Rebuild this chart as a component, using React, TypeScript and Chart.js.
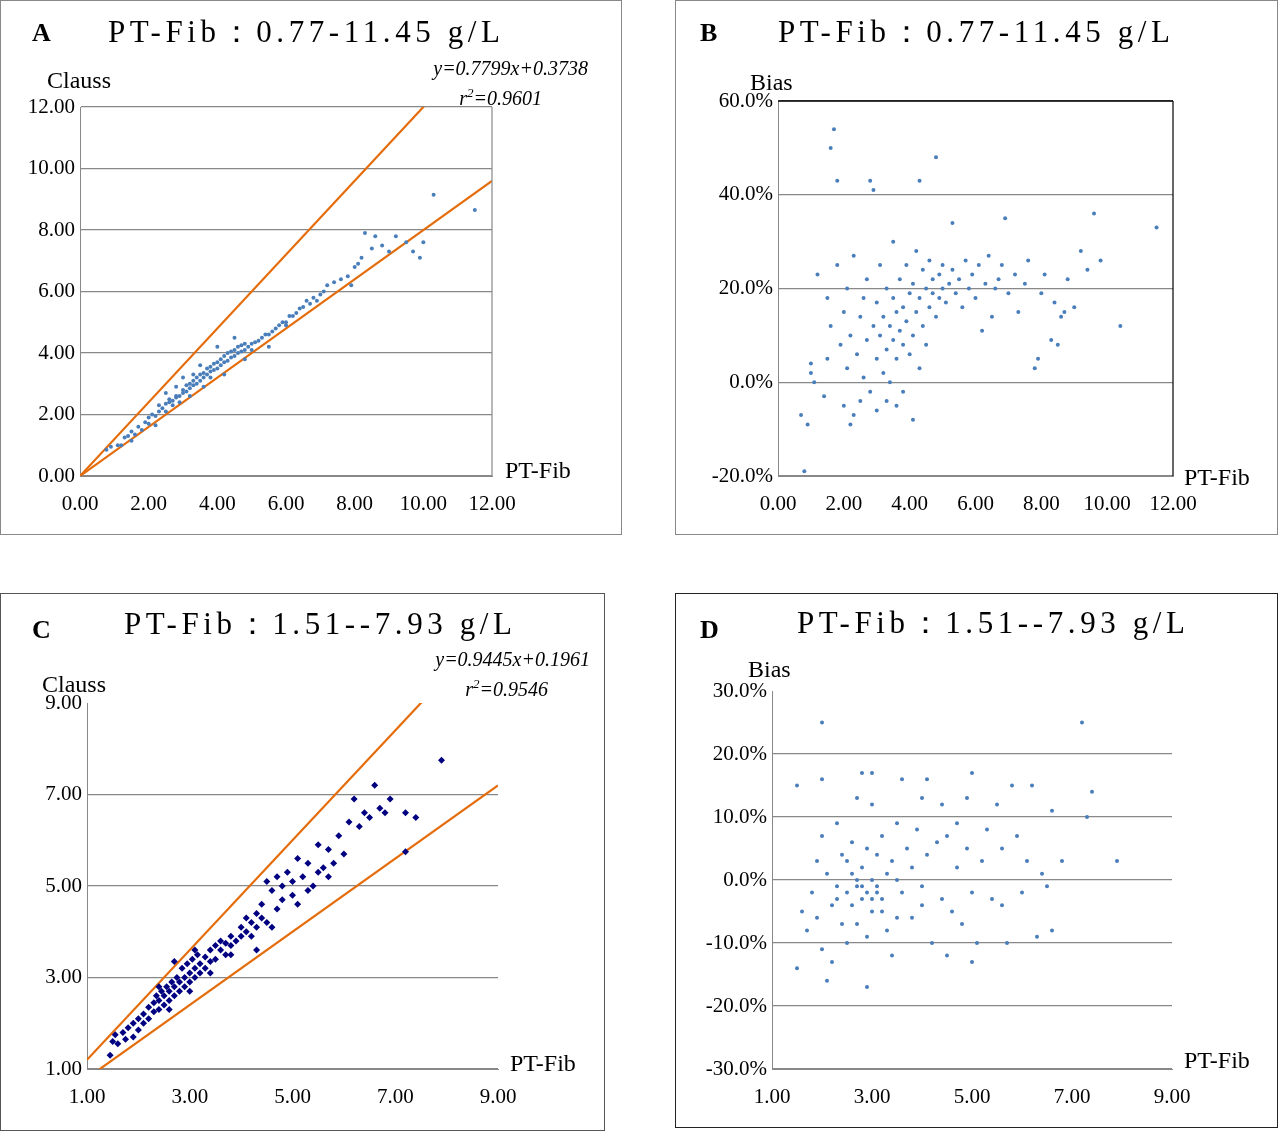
import React, { useEffect, useRef } from "react";
import { Chart, registerables } from "chart.js";
Chart.register(...registerables);

const pointsA: number[][] = [[0.77,0.85],[0.9,0.95],[1.1,1.0],[1.2,1.0],[1.3,1.25],[1.4,1.3],[1.5,1.45],[1.5,1.15],[1.6,1.35],[1.7,1.6],[1.8,1.5],[1.9,1.75],[2.0,1.9],[2.0,1.7],[2.1,2.0],[2.2,1.95],[2.2,1.65],[2.3,2.1],[2.3,2.3],[2.4,2.2],[2.5,2.35],[2.5,2.1],[2.5,2.7],[2.6,2.4],[2.6,2.5],[2.7,2.45],[2.7,2.3],[2.8,2.55],[2.8,2.6],[2.8,2.9],[2.9,2.6],[2.9,2.4],[3.0,2.7],[3.0,2.8],[3.0,3.2],[3.1,2.75],[3.1,2.95],[3.2,2.85],[3.2,3.0],[3.2,2.6],[3.3,2.95],[3.3,3.1],[3.3,3.3],[3.4,3.0],[3.4,3.2],[3.5,3.1],[3.5,3.3],[3.5,3.6],[3.6,3.2],[3.6,3.35],[3.6,2.9],[3.7,3.3],[3.7,3.5],[3.8,3.4],[3.8,3.55],[3.8,3.2],[3.9,3.45],[3.9,3.65],[4.0,3.5],[4.0,3.7],[4.0,4.2],[4.1,3.6],[4.1,3.8],[4.2,3.7],[4.2,3.9],[4.2,3.3],[4.3,3.75],[4.3,4.0],[4.4,3.85],[4.4,4.05],[4.5,3.9],[4.5,4.1],[4.5,4.5],[4.6,4.0],[4.6,4.2],[4.7,4.05],[4.7,4.25],[4.8,4.1],[4.8,4.3],[4.8,3.8],[4.9,4.2],[5.0,4.3],[5.0,4.1],[5.1,4.35],[5.2,4.4],[5.3,4.5],[5.4,4.6],[5.5,4.6],[5.5,4.2],[5.6,4.7],[5.7,4.8],[5.8,4.9],[5.9,5.0],[6.0,5.0],[6.0,4.9],[6.1,5.2],[6.2,5.2],[6.3,5.3],[6.4,5.45],[6.5,5.5],[6.6,5.7],[6.7,5.6],[6.8,5.8],[6.9,5.7],[7.0,5.9],[7.1,6.0],[7.2,6.2],[7.4,6.3],[7.6,6.4],[7.8,6.5],[7.9,6.2],[8.0,6.8],[8.1,6.9],[8.2,7.1],[8.3,7.9],[8.5,7.4],[8.6,7.8],[8.8,7.5],[9.0,7.3],[9.2,7.8],[9.5,7.6],[9.7,7.3],[9.9,7.1],[10.0,7.6],[10.3,9.15],[11.5,8.65]];

const pointsB: number[][] = [[0.7,-7],[0.8,-19],[0.9,-9],[1.0,2],[1.0,4],[1.1,0],[1.2,23],[1.4,-3],[1.5,5],[1.5,18],[1.6,12],[1.6,50],[1.7,54],[1.8,43],[1.8,25],[1.9,8],[2.0,-5],[2.0,15],[2.1,20],[2.1,3],[2.2,-9],[2.2,10],[2.3,27],[2.3,-7],[2.4,6],[2.5,14],[2.5,-4],[2.6,18],[2.6,1],[2.7,22],[2.7,9],[2.8,43],[2.8,-2],[2.9,41],[2.9,12],[3.0,5],[3.0,17],[3.0,-6],[3.1,25],[3.1,10],[3.2,2],[3.2,14],[3.3,20],[3.3,7],[3.3,-4],[3.4,12],[3.4,0],[3.5,18],[3.5,9],[3.5,30],[3.6,15],[3.6,5],[3.6,-5],[3.7,22],[3.7,11],[3.8,8],[3.8,16],[3.8,-2],[3.9,13],[3.9,25],[4.0,19],[4.0,6],[4.1,10],[4.1,21],[4.1,-8],[4.2,15],[4.2,28],[4.3,43],[4.3,18],[4.3,3],[4.4,24],[4.4,12],[4.5,20],[4.5,8],[4.6,26],[4.6,16],[4.7,19],[4.7,22],[4.8,48],[4.8,14],[4.9,23],[4.9,18],[5.0,20],[5.0,25],[5.1,17],[5.2,21],[5.3,34],[5.3,24],[5.4,19],[5.5,22],[5.6,16],[5.7,26],[5.8,20],[5.9,23],[6.0,18],[6.1,25],[6.2,11],[6.3,21],[6.4,27],[6.5,14],[6.6,20],[6.7,22],[6.8,25],[6.9,35],[7.0,19],[7.2,23],[7.3,15],[7.5,21],[7.6,26],[7.8,3],[7.9,5],[8.0,19],[8.1,23],[8.3,9],[8.4,17],[8.5,8],[8.6,14],[8.7,15],[8.8,22],[9.0,16],[9.2,28],[9.4,24],[9.6,36],[9.8,26],[10.4,12],[11.5,33]];

const pointsC: number[][] = [[1.45,1.3],[1.5,1.6],[1.55,1.75],[1.6,1.55],[1.7,1.8],[1.75,1.65],[1.8,1.9],[1.9,1.7],[1.9,2.0],[2.0,2.1],[2.0,1.85],[2.1,2.2],[2.1,2.0],[2.2,2.35],[2.2,2.1],[2.3,2.25],[2.3,2.45],[2.35,2.6],[2.4,2.3],[2.4,2.5],[2.4,2.8],[2.45,2.7],[2.5,2.4],[2.5,2.6],[2.55,2.8],[2.6,2.5],[2.6,2.7],[2.6,2.3],[2.65,2.9],[2.7,2.6],[2.7,2.8],[2.7,3.35],[2.75,3.0],[2.8,2.7],[2.8,2.9],[2.85,3.2],[2.9,2.8],[2.9,3.0],[2.95,3.3],[3.0,2.9],[3.0,3.1],[3.0,2.7],[3.05,3.4],[3.1,3.0],[3.1,3.2],[3.1,3.6],[3.15,3.5],[3.2,3.1],[3.2,3.3],[3.3,3.2],[3.3,3.45],[3.4,3.35],[3.4,3.6],[3.4,3.1],[3.5,3.4],[3.5,3.7],[3.6,3.6],[3.6,3.8],[3.7,3.5],[3.7,3.75],[3.8,3.7],[3.8,3.9],[3.8,3.5],[3.9,3.8],[4.0,3.9],[4.0,4.1],[4.1,4.0],[4.1,4.3],[4.2,4.2],[4.2,3.9],[4.3,4.1],[4.3,4.4],[4.3,3.6],[4.4,4.3],[4.4,4.6],[4.5,4.2],[4.5,5.1],[4.6,4.9],[4.6,4.1],[4.7,4.5],[4.7,5.2],[4.8,5.0],[4.8,4.7],[4.9,5.3],[5.0,5.1],[5.0,4.8],[5.1,5.6],[5.1,4.6],[5.2,5.2],[5.3,5.5],[5.3,4.9],[5.4,5.0],[5.5,5.3],[5.5,5.9],[5.6,5.4],[5.7,5.8],[5.7,5.2],[5.8,5.5],[5.9,6.1],[6.0,5.7],[6.1,6.4],[6.2,6.9],[6.3,6.3],[6.4,6.6],[6.5,6.5],[6.6,7.2],[6.7,6.7],[6.8,6.6],[6.9,6.9],[7.2,6.6],[7.4,6.5],[7.9,7.75],[7.2,5.75]];

const pointsD: number[][] = [[1.5,15],[1.5,-14],[1.6,-5],[1.7,-8],[1.8,-2],[1.9,3],[1.9,-6],[2.0,7],[2.0,16],[2.0,25],[2.0,-11],[2.1,-16],[2.1,1],[2.2,-4],[2.2,-13],[2.3,9],[2.3,-1],[2.3,-3],[2.4,-7],[2.4,4],[2.5,-2],[2.5,-10],[2.5,3],[2.6,1],[2.6,6],[2.6,-4],[2.7,-1],[2.7,-7],[2.7,13],[2.7,0],[2.8,-3],[2.8,2],[2.8,17],[2.8,-1],[2.9,-2],[2.9,-9],[2.9,-17],[2.9,5],[3.0,0],[3.0,12],[3.0,-5],[3.0,17],[3.0,-3],[3.1,-1],[3.1,4],[3.1,-2],[3.2,-3],[3.2,7],[3.2,-5],[3.3,1],[3.3,-8],[3.4,3],[3.4,-12],[3.5,0],[3.5,9],[3.5,-6],[3.6,-2],[3.6,16],[3.7,5],[3.8,-6],[3.8,2],[3.9,8],[4.0,-1],[4.0,13],[4.0,-4],[4.1,16],[4.1,4],[4.2,-10],[4.3,6],[4.4,-3],[4.4,12],[4.5,7],[4.5,-12],[4.6,-5],[4.7,9],[4.7,2],[4.8,-7],[4.9,5],[4.9,13],[5.0,17],[5.0,-2],[5.0,-13],[5.1,-10],[5.2,3],[5.3,8],[5.4,-3],[5.5,12],[5.6,5],[5.6,-4],[5.7,-10],[5.8,15],[5.9,7],[6.0,-2],[6.1,3],[6.2,15],[6.3,-9],[6.4,1],[6.5,-1],[6.6,11],[6.6,-8],[6.8,3],[7.2,25],[7.3,10],[7.4,14],[7.9,3]];

const limitSlopes = [1.2, 0.8];

type Cfg = {
  left: number; top: number; w: number; h: number;
  cl: number; cr: number; ct: number; cb: number;
  pts: number[][]; pct: boolean; lines: boolean;
  xmin: number; xmax: number; xstep: number;
  ymin: number; ymax: number; ystep: number;
  navy: boolean; rightBorder?: string; topBorder?: string; hideTopGrid?: boolean; frame: string;
};

function Panel({ c }: { c: Cfg }) {
  const ref = useRef<HTMLCanvasElement>(null);
  useEffect(() => {
    const W = c.w - 2, H = c.h - 2;
    const datasets: any[] = [{
      data: c.pts.map(p => ({ x: p[0], y: c.pct ? p[1] / 100 : p[1] })),
      pointStyle: c.navy ? "rectRot" : "circle",
      pointRadius: c.navy ? 3.5 : 2,
      backgroundColor: c.navy ? "#000080" : "#4a7ebb",
      borderColor: c.navy ? "#000080" : "#4a7ebb",
      borderWidth: 0,
    }];
    if (c.lines) {
      limitSlopes.forEach(s => datasets.push({
        data: [{ x: c.xmin, y: s * c.xmin }, { x: c.xmax, y: s * c.xmax }],
        showLine: true, pointRadius: 0, borderColor: "#e46c0a", borderWidth: 2.2,
      }));
    }
    const font = { family: "'Liberation Serif', serif", size: 21 };
    const xH = 45;
    const chart = new Chart(ref.current!, {
      type: "scatter",
      data: { datasets },
      options: {
        animation: false, responsive: false,
        layout: { padding: { left: 0, top: c.ct, right: W - c.cr, bottom: H - c.cb - xH } },
        plugins: { legend: { display: false }, tooltip: { enabled: false } },
        scales: {
          x: {
            type: "linear", min: c.xmin, max: c.xmax,
            afterFit: (s: any) => { s.height = xH; },
            ticks: { stepSize: c.xstep, color: "#000", font, padding: 16, callback: (v: any) => Number(v).toFixed(2) },
            grid: { display: false, drawTicks: false },
            border: { color: "#888", width: 1 },
          },
          y: {
            type: "linear", min: c.ymin, max: c.ymax,
            afterFit: (s: any) => { s.width = c.cl; },
            ticks: {
              stepSize: c.ystep, color: "#000", font, padding: 5,
              callback: (v: any) => c.pct ? (Number(v) * 100).toFixed(1) + "%" : Number(v).toFixed(2),
            },
            grid: {
              drawTicks: false, lineWidth: 1.2,
              color: (ctx: any) => (c.hideTopGrid && ctx.tick && Math.abs(ctx.tick.value - c.ymax) < 1e-9) ? "rgba(0,0,0,0)" : "#888",
            },
            border: { color: "#888", width: 1 },
          },
        },
      },
      plugins: [{
        id: "frame",
        afterDraw: (ch: any) => {
          const a = ch.chartArea, g = ch.ctx;
          g.save();
          if (c.rightBorder) { g.strokeStyle = c.rightBorder; g.lineWidth = 1.2; g.beginPath(); g.moveTo(a.right, a.top); g.lineTo(a.right, a.bottom); g.stroke(); }
          if (c.topBorder) { g.strokeStyle = c.topBorder; g.lineWidth = 1.5; g.beginPath(); g.moveTo(a.left, a.top); g.lineTo(a.right, a.top); g.stroke(); }
          g.restore();
        },
      }],
    } as any);
    return () => chart.destroy();
  }, []);
  return (
    <div style={{ position: "absolute", left: c.left, top: c.top, width: c.w - 2, height: c.h - 2, border: `1px solid ${c.frame}` }}>
      <canvas ref={ref} width={c.w - 2} height={c.h - 2} style={{ display: "block" }} />
    </div>
  );
}

const serif = "'Liberation Serif', serif";

function T({ x, y, s, children, bold, italic, right, ls }: any) {
  return (
    <div style={{
      position: "absolute", top: y, left: right ? undefined : x, right: right ? 1280 - x : undefined,
      fontSize: s, fontFamily: serif, fontWeight: bold ? "bold" : "normal", letterSpacing: ls || 0,
      fontStyle: italic ? "italic" : "normal", lineHeight: 1, whiteSpace: "nowrap", color: "#000",
    }}>{children}</div>
  );
}

const panels: Cfg[] = [
  { left: 0, top: 0, w: 622, h: 535, cl: 79, cr: 491, ct: 106, cb: 475, pts: pointsA, pct: false, lines: true, xmin: 0, xmax: 12, xstep: 2, ymin: 0, ymax: 12, ystep: 2, navy: false, rightBorder: "#888", frame: "#888" },
  { left: 675, top: 0, w: 603, h: 535, cl: 102, cr: 497, ct: 100, cb: 475, pts: pointsB, pct: true, lines: false, xmin: 0, xmax: 12, xstep: 2, ymin: -0.2, ymax: 0.6, ystep: 0.2, navy: false, rightBorder: "#000", topBorder: "#000", frame: "#888" },
  { left: 0, top: 593, w: 605, h: 538, cl: 86, cr: 497, ct: 109, cb: 475, pts: pointsC, pct: false, lines: true, xmin: 1, xmax: 9, xstep: 2, ymin: 1, ymax: 9, ystep: 2, navy: true, hideTopGrid: true, frame: "#555" },
  { left: 675, top: 593, w: 603, h: 535, cl: 96, cr: 496, ct: 97, cb: 475, pts: pointsD, pct: true, lines: false, xmin: 1, xmax: 9, xstep: 2, ymin: -0.3, ymax: 0.3, ystep: 0.1, navy: false, hideTopGrid: true, frame: "#222" },
];

export default function App() {
  return (
    <div style={{ position: "absolute", left: 0, top: 0, width: 1280, height: 1131, background: "#fff" }}>
      {panels.map((p, i) => <Panel key={i} c={p} />)}
      <T x={32} y={20} s={26} bold>A</T>
      <T x={108} y={16} s={31} ls={4.6}>PT-Fib：0.77-11.45 g/L</T>
      <T x={47} y={68} s={24}>Clauss</T>
      <T x={588} y={58} s={20} italic right>y=0.7799x+0.3738</T>
      <T x={542} y={86} s={20} italic right>r<sup style={{ fontSize: 13 }}>2</sup>=0.9601</T>
      <T x={505} y={458} s={24}>PT-Fib</T>

      <T x={700} y={20} s={26} bold>B</T>
      <T x={778} y={16} s={31} ls={4.6}>PT-Fib：0.77-11.45 g/L</T>
      <T x={750} y={70} s={24}>Bias</T>
      <T x={1184} y={465} s={24}>PT-Fib</T>

      <T x={32} y={617} s={26} bold>C</T>
      <T x={124} y={608} s={31} ls={4.6}>PT-Fib：1.51--7.93 g/L</T>
      <T x={42} y={672} s={24}>Clauss</T>
      <T x={590} y={649} s={20} italic right>y=0.9445x+0.1961</T>
      <T x={548} y={677} s={20} italic right>r<sup style={{ fontSize: 13 }}>2</sup>=0.9546</T>
      <T x={510} y={1051} s={24}>PT-Fib</T>

      <T x={700} y={617} s={26} bold>D</T>
      <T x={797} y={607} s={31} ls={4.6}>PT-Fib：1.51--7.93 g/L</T>
      <T x={748} y={657} s={24}>Bias</T>
      <T x={1184} y={1048} s={24}>PT-Fib</T>
    </div>
  );
}
